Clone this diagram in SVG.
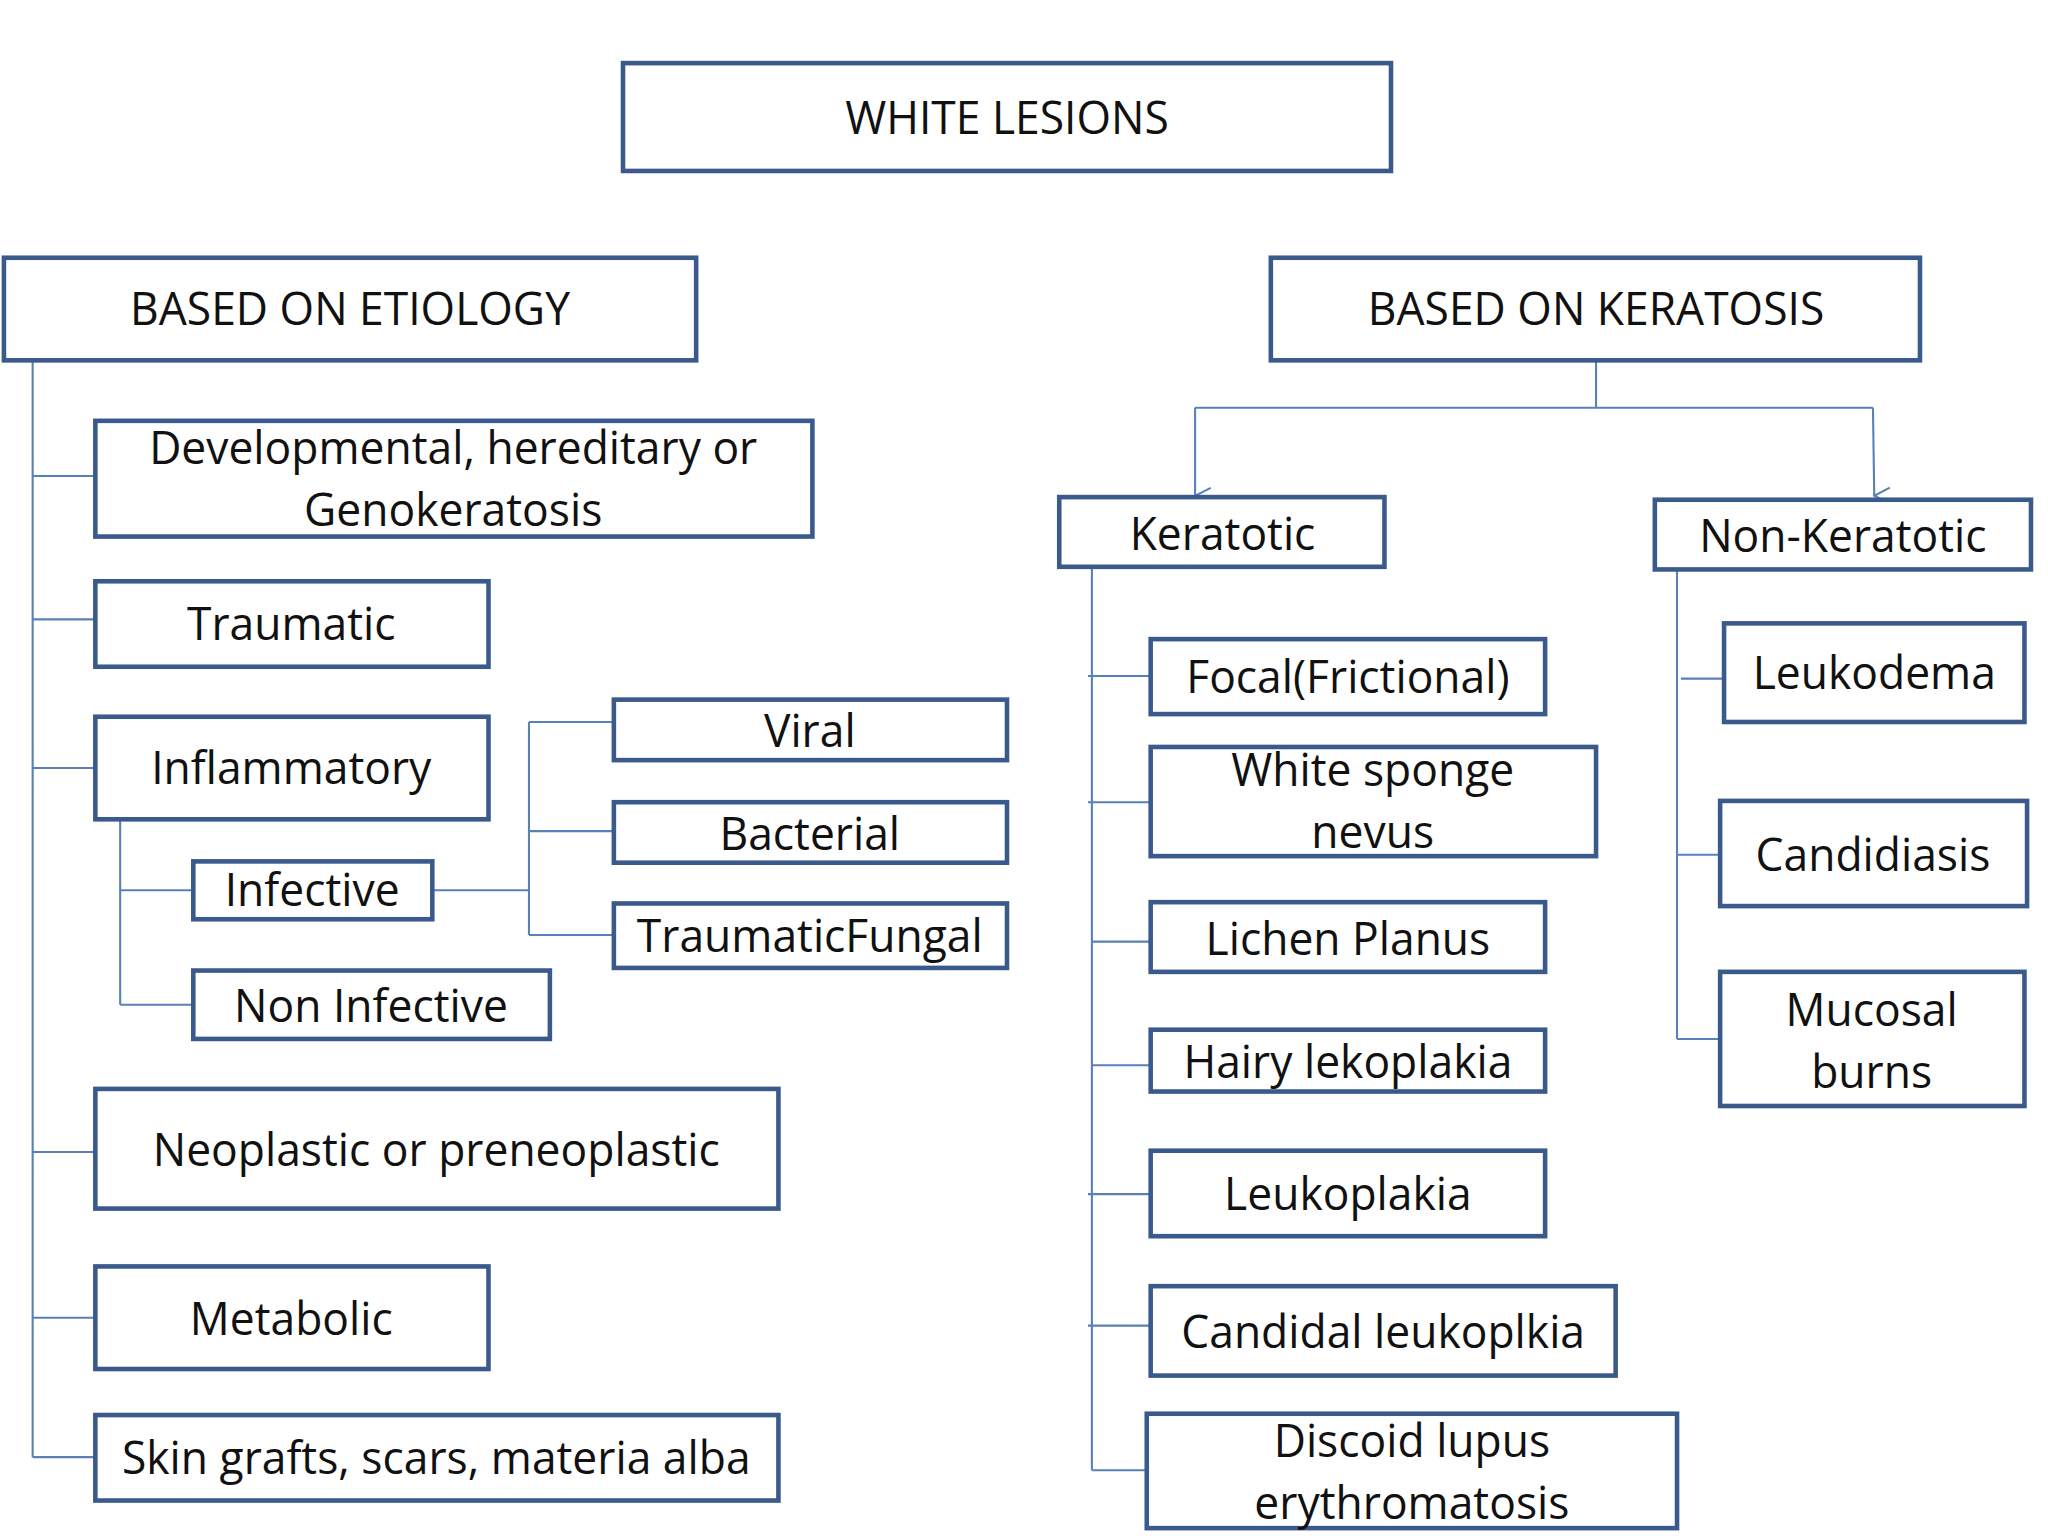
<svg xmlns="http://www.w3.org/2000/svg" width="2048" height="1536" viewBox="0 0 2048 1536">
<defs>
<style>
.b{fill:#fff;stroke:#3b5a8c;stroke-width:3.5}
.t{font-family:"Open Sans","Liberation Sans",sans-serif;font-size:34px;fill:#111;text-anchor:middle}
.c{fill:none;stroke:#5a80b8;stroke-width:1.6}
</style>
<marker id="a" markerWidth="14" markerHeight="14" refX="7" refY="13" orient="auto" markerUnits="userSpaceOnUse" viewBox="0 0 14 14"><path d="M1,1 L7,13 L13,1" fill="none" stroke="#5a80b8" stroke-width="1.6"/></marker>
</defs>
<rect width="2048" height="1536" fill="#fff"/>
<g transform="scale(1.3061 1.3151)">
<g id="connectors">
<path class="c" d="M25,274 V1108 M25,362 H73 M25,471 H73 M25,584 H73 M25,876 H73 M25,1002 H73 M25,1108 H73"/>
<path class="c" d="M92,623 V764 M92,677 H148 M92,764 H148"/>
<path class="c" d="M331,677 H405 M405,549 V711 M405,549 H470 M405,632 H470 M405,711 H470"/>
<path class="c" d="M1222,274 V310 M915,310 H1434"/>
<path class="c" d="M915,310 V377" marker-end="url(#a)"/>
<path class="c" d="M1434,310 L1435,377" marker-end="url(#a)"/>
<path class="c" d="M836,431 V1118 M833,514 H881 M833,610 H881 M836,716 H881 M836,810 H881 M833,908 H881 M833,1008 H881 M836,1118 H878"/>
<path class="c" d="M1284,433 V790 M1287,516 H1320 M1284,650 H1317 M1284,790 H1317"/>
</g>
<g id="n-root"><rect class="b" x="477" y="48" width="588" height="82"/><text class="t" x="771" y="102">WHITE LESIONS</text></g>
<g id="n-etio"><rect class="b" x="3" y="196" width="530" height="78"/><text class="t" x="268" y="247">BASED ON ETIOLOGY</text></g>
<g id="n-kera"><rect class="b" x="973" y="196" width="497" height="78"/><text class="t" x="1222" y="247">BASED ON KERATOSIS</text></g>
<g id="n-dev"><rect class="b" x="73" y="320" width="549" height="88"/><text class="t" x="347" y="353">Developmental, hereditary or</text><text class="t" x="347" y="400">Genokeratosis</text></g>
<g id="n-trau"><rect class="b" x="73" y="442" width="301" height="65"/><text class="t" x="223" y="487">Traumatic</text></g>
<g id="n-infl"><rect class="b" x="73" y="545" width="301" height="78"/><text class="t" x="223" y="596">Inflammatory</text></g>
<g id="n-infe"><rect class="b" x="148" y="655" width="183" height="44"/><text class="t" x="239" y="689">Infective</text></g>
<g id="n-noninf"><rect class="b" x="148" y="738" width="273" height="52"/><text class="t" x="284" y="777">Non Infective</text></g>
<g id="n-viral"><rect class="b" x="470" y="532" width="301" height="46"/><text class="t" x="620" y="568">Viral</text></g>
<g id="n-bact"><rect class="b" x="470" y="610" width="301" height="46"/><text class="t" x="620" y="646">Bacterial</text></g>
<g id="n-tf"><rect class="b" x="470" y="687" width="301" height="49"/><text class="t" x="620" y="724">TraumaticFungal</text></g>
<g id="n-neo"><rect class="b" x="73" y="828" width="523" height="91"/><text class="t" x="334" y="887">Neoplastic or preneoplastic</text></g>
<g id="n-meta"><rect class="b" x="73" y="963" width="301" height="78"/><text class="t" x="223" y="1015">Metabolic</text></g>
<g id="n-skin"><rect class="b" x="73" y="1076" width="523" height="65"/><text class="t" x="334" y="1121">Skin grafts, scars, materia alba</text></g>
<g id="n-ker"><rect class="b" x="811" y="378" width="249" height="53"/><text class="t" x="936" y="418">Keratotic</text></g>
<g id="n-nonker"><rect class="b" x="1267" y="380" width="288" height="53"/><text class="t" x="1411" y="420">Non-Keratotic</text></g>
<g id="n-focal"><rect class="b" x="881" y="486" width="302" height="57"/><text class="t" x="1032" y="527">Focal(Frictional)</text></g>
<g id="n-wsn"><rect class="b" x="881" y="568" width="341" height="83"/><text class="t" x="1051" y="598">White sponge</text><text class="t" x="1051" y="645">nevus</text></g>
<g id="n-lp"><rect class="b" x="881" y="686" width="302" height="53"/><text class="t" x="1032" y="726">Lichen Planus</text></g>
<g id="n-hairy"><rect class="b" x="881" y="783" width="302" height="47"/><text class="t" x="1032" y="820">Hairy lekoplakia</text></g>
<g id="n-leuk"><rect class="b" x="881" y="875" width="302" height="65"/><text class="t" x="1032" y="920">Leukoplakia</text></g>
<g id="n-cand"><rect class="b" x="881" y="978" width="356" height="68"/><text class="t" x="1059" y="1025">Candidal leukoplkia</text></g>
<g id="n-disc"><rect class="b" x="878" y="1075" width="406" height="87"/><text class="t" x="1081" y="1108">Discoid lupus</text><text class="t" x="1081" y="1155">erythromatosis</text></g>
<g id="n-leukod"><rect class="b" x="1320" y="474" width="230" height="75"/><text class="t" x="1435" y="524">Leukodema</text></g>
<g id="n-candi"><rect class="b" x="1317" y="609" width="235" height="80"/><text class="t" x="1434" y="662">Candidiasis</text></g>
<g id="n-muc"><rect class="b" x="1317" y="739" width="233" height="102"/><text class="t" x="1433" y="780">Mucosal</text><text class="t" x="1433" y="827">burns</text></g>
</g>
</svg>
